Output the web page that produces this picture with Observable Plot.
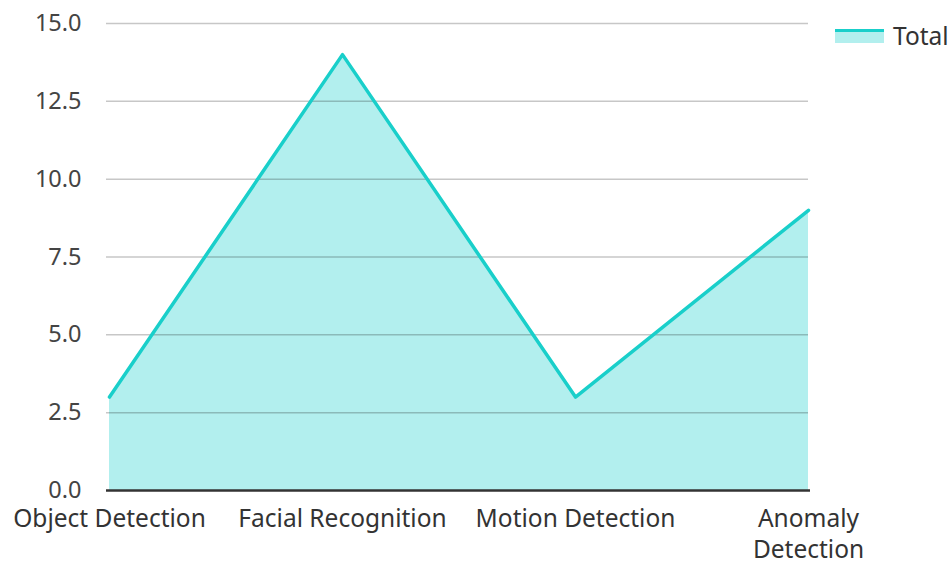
<!DOCTYPE html>
<html>
<head>
<meta charset="utf-8">
<script src="https://cdn.jsdelivr.net/npm/d3@7"></script>
<script src="https://cdn.jsdelivr.net/npm/@observablehq/plot@0.6"></script>
<style>
  html, body { margin: 0; padding: 0; background: #fff; }
  #wrap { position: relative; width: 950px; height: 562px; font-family: "Noto Sans", "Open Sans", sans-serif; }
  #legend { position: absolute; left: 835px; top: 19px; display: flex; align-items: center; font-size: 24.5px; color: #333; }
  #legend .sw { width: 49px; height: 14px; background: #b2efee; border-top: 3px solid #19cfca; box-sizing: border-box; margin-right: 9px; }
</style>
</head>
<body>
<div id="wrap"><div id="legend"><div class="sw"></div><span>Total</span></div></div>
<script>
const categories = ["Object Detection", "Facial Recognition", "Motion Detection", "Anomaly Detection"];
const totals = [3, 14, 3, 9];
const categoryLabels = ["Object Detection", "Facial Recognition", "Motion Detection", "Anomaly\nDetection"];
const yTicks = [0, 2.5, 5, 7.5, 10, 12.5, 15];

const data = categories.map((c, i) => ({category: c, total: totals[i]}));
const labelOf = new Map(categories.map((c, i) => [c, categoryLabels[i]]));

const chart = Plot.plot({
  width: 950,
  height: 562,
  marginLeft: 108,
  marginRight: 142,
  marginTop: 23,
  marginBottom: 72,
  style: {fontFamily: '"Noto Sans", "Open Sans", sans-serif', fontSize: "22px", color: "#333", background: "transparent", overflow: "visible"},
  x: {type: "point", domain: categories, padding: 0},
  y: {domain: [0, 15]},
  marks: [
    Plot.areaY(data, {x: "category", y: "total", fill: "#b2efee"}),
    Plot.ruleY(yTicks.filter(d => d > 0), {stroke: "#000", strokeOpacity: 0.22, strokeWidth: 1.5, insetLeft: -2}),
    Plot.ruleY([0], {stroke: "#333", strokeWidth: 2.5, insetLeft: -2, insetRight: -2}),
    Plot.lineY(data, {x: "category", y: "total", stroke: "#19cfca", strokeWidth: 3.5}),
    Plot.axisY({ticks: yTicks, tickFormat: d => d.toFixed(1), tickSize: 0, tickPadding: 27, fontSize: 23.5, fill: "#444", label: null}),
    Plot.axisX({tickSize: 0, tickPadding: 14, tickFormat: d => labelOf.get(d), fontSize: 24.5, fill: "#333", label: null, lineHeight: 1.28})
  ]
});
document.getElementById("wrap").prepend(chart);
</script>
</body>
</html>
